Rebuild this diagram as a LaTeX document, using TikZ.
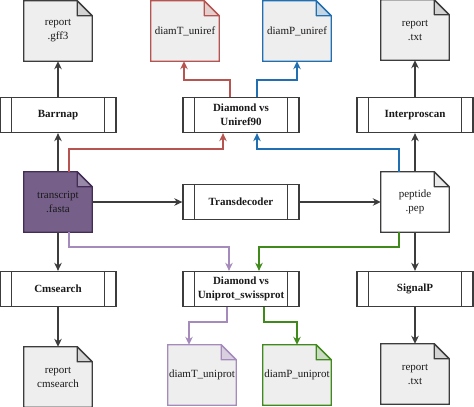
\documentclass[tikz,border=0pt]{standalone}
\usepackage{fontspec}
\setmainfont{Liberation Serif}
\usetikzlibrary{arrows.meta,backgrounds,calc}
\definecolor{dk}{HTML}{3C3C3C}
\definecolor{docgray}{HTML}{EEEEEE}
\definecolor{redc}{HTML}{B85450}
\definecolor{bluec}{HTML}{1F6FB2}
\definecolor{grnc}{HTML}{3F8A1A}
\definecolor{purc}{HTML}{A58BBB}
\definecolor{purfill}{HTML}{76608A}
\definecolor{purdk}{HTML}{432D57}
\definecolor{txt}{HTML}{1A1A1A}
\begin{document}
\begin{tikzpicture}[x=1pt,y=-1pt,
  proc/.style={draw=dk, line width=1.3pt, fill=white, minimum width=116pt, minimum height=35pt,
    inner sep=0pt, align=center, text=txt, font=\bfseries\fontsize{11}{14}\selectfont},
  doc/.style={minimum width=68pt, minimum height=60pt, inner sep=0pt, align=center, text=txt,
    font=\fontsize{11}{14}\selectfont},
  arr/.style={-{Stealth[length=8pt,width=7.5pt,inset=2.5pt]}, line width=1.3pt}]
\useasboundingbox (0,0) rectangle (474,407);
% documents
\node[doc] (gff) at (58,31) {report\\.gff3};
\node[doc] (duT) at (185,31) {diamT\_uniref};
\node[doc] (duP) at (297,31) {diamP\_uniref};
\node[doc] (rtxtA) at (415,30) {report\\.txt};
\node[doc] (transcript) at (58,202) {transcript\\.fasta};
\node[doc] (peptide) at (415,202) {peptide\\.pep};
\node[doc] (rcms) at (58,377) {report\\cmsearch};
\node[doc] (dTp) at (202,375) {diamT\_uniprot};
\node[doc] (dPp) at (297,375) {diamP\_uniprot};
\node[doc] (rtxtB) at (415,374) {report\\.txt};
% processes
\node[proc] (barrnap) at (58,115) {Barrnap};
\node[proc] (uniref) at (241,115) {Diamond vs\\Uniref90};
\node[proc] (interpro) at (415,115) {Interproscan};
\node[proc] (transdec) at (241,202) {Transdecoder};
\node[proc] (cmsearch) at (58,289) {Cmsearch};
\node[proc] (uniprot) at (241,289) {Diamond vs\\Uniprot\_swissprot};
\node[proc] (signalp) at (415,289) {SignalP};
\foreach \n in {barrnap,uniref,interpro,transdec,cmsearch,uniprot,signalp}{
  \draw[dk, line width=1.3pt] ([xshift=12pt]\n.north west) -- ([xshift=12pt]\n.south west);
  \draw[dk, line width=1.3pt] ([xshift=-12pt]\n.north east) -- ([xshift=-12pt]\n.south east);
}
\begin{scope}[on background layer]
\foreach \n/\s/\f/\g in {gff/dk/docgray/docgray!85!dk, duT/redc/docgray/docgray!80!redc,
    duP/bluec/docgray/docgray!80!bluec, rtxtA/dk/docgray/docgray!85!dk,
    transcript/purdk/purfill/purfill!75!white, peptide/dk/white/white!90!dk,
    rcms/dk/docgray/docgray!85!dk, dTp/purc/docgray/docgray!70!purc,
    dPp/grnc/docgray/docgray!80!grnc, rtxtB/dk/docgray/docgray!85!dk}{
  \draw[draw=\s, fill=\f, line width=1.3pt] (\n.north west) -- ([xshift=-15pt]\n.north east)
    -- ([yshift=-15pt]\n.north east) -- (\n.south east) -- (\n.south west) -- cycle;
  \draw[draw=\s, fill=\g, line width=1.3pt, line join=round] ([xshift=-15pt]\n.north east)
    -- ([xshift=-15pt,yshift=-15pt]\n.north east) -- ([yshift=-15pt]\n.north east) -- cycle;
}
\end{scope}
% level coordinates
\coordinate (lvA) at (0,80);
\coordinate (lvB) at (0,149);
\coordinate (lvC) at (0,247);
\coordinate (lvD) at (0,322);
% gray connectors
\draw[arr,dk] (barrnap.north) -- (gff.south);
\draw[arr,dk] (transcript.north) -- (barrnap.south);
\draw[arr,dk] (transcript.south) -- (cmsearch.north);
\draw[arr,dk] (cmsearch.south) -- (rcms.north);
\draw[arr,dk] (transcript.east) -- (transdec.west);
\draw[arr,dk] (transdec.east) -- (peptide.west);
\draw[arr,dk] (peptide.north) -- (interpro.south);
\draw[arr,dk] (interpro.north) -- (rtxtA.south);
\draw[arr,dk] (peptide.south) -- (signalp.north);
\draw[arr,dk] (signalp.south) -- (rtxtB.north);
% coloured connectors
\draw[arr,redc] ([xshift=11pt]transcript.north) coordinate (r0) -- (r0 |- lvB) -| ([xshift=-18pt]uniref.south);
\draw[arr,redc] ([xshift=-11pt]uniref.north) coordinate (r1) -- (r1 |- lvA) -| ([xshift=-1pt]duT.south);
\draw[arr,bluec] ([xshift=-16pt]peptide.north) coordinate (b0) -- (b0 |- lvB) -| ([xshift=16pt]uniref.south);
\draw[arr,bluec] ([xshift=16pt]uniref.north) coordinate (b1) -- (b1 |- lvA) -| (duP.south);
\draw[arr,purc] ([xshift=11pt]transcript.south) coordinate (p0) -- (p0 |- lvC) -| ([xshift=-12pt]uniprot.north);
\draw[arr,grnc] ([xshift=-16pt]peptide.south) coordinate (g0) -- (g0 |- lvC) -| ([xshift=18pt]uniprot.north);
\draw[arr,purc] ([xshift=-14pt]uniprot.south) coordinate (p1) -- (p1 |- lvD) -| ([xshift=-13pt]dTp.north);
\draw[arr,grnc] ([xshift=23pt]uniprot.south) coordinate (g1) -- (g1 |- lvD) -| (dPp.north);
\end{tikzpicture}
\end{document}
